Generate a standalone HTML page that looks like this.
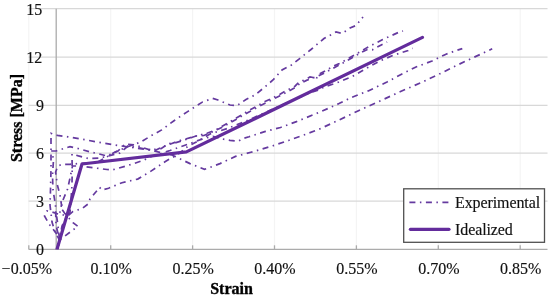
<!DOCTYPE html>
<html><head><meta charset="utf-8"><style>
html,body{margin:0;padding:0;background:#fff;}
svg{display:block;}
.t{font-family:"Liberation Serif",serif;font-size:16px;fill:#111;stroke:#111;stroke-width:0.15px;}
.b{font-family:"Liberation Serif",serif;font-size:16px;font-weight:bold;fill:#000;stroke:#000;stroke-width:0.35px;}
</style></head><body>
<svg width="550" height="297" viewBox="0 0 550 297">
<rect width="550" height="297" fill="#fff"/>
<line x1="28.8" y1="8.7" x2="28.8" y2="249.3" stroke="#F4F4F4" stroke-width="1.2"/>
<line x1="110.7" y1="8.7" x2="110.7" y2="249.3" stroke="#F4F4F4" stroke-width="1.2"/>
<line x1="192.6" y1="8.7" x2="192.6" y2="249.3" stroke="#F4F4F4" stroke-width="1.2"/>
<line x1="274.5" y1="8.7" x2="274.5" y2="249.3" stroke="#F4F4F4" stroke-width="1.2"/>
<line x1="356.4" y1="8.7" x2="356.4" y2="249.3" stroke="#F4F4F4" stroke-width="1.2"/>
<line x1="438.3" y1="8.7" x2="438.3" y2="249.3" stroke="#F4F4F4" stroke-width="1.2"/>
<line x1="520.2" y1="8.7" x2="520.2" y2="249.3" stroke="#F4F4F4" stroke-width="1.2"/>
<line x1="28.6" y1="201.1" x2="547.5" y2="201.1" stroke="#D8D8D8" stroke-width="1.25"/>
<line x1="28.6" y1="153.1" x2="547.5" y2="153.1" stroke="#D8D8D8" stroke-width="1.25"/>
<line x1="28.6" y1="105.3" x2="547.5" y2="105.3" stroke="#D8D8D8" stroke-width="1.25"/>
<line x1="28.6" y1="57.0" x2="547.5" y2="57.0" stroke="#D8D8D8" stroke-width="1.25"/>
<line x1="28.6" y1="8.7" x2="547.5" y2="8.7" stroke="#D8D8D8" stroke-width="1.25"/>
<line x1="56.2" y1="8.7" x2="56.2" y2="249.3" stroke="#ABABAB" stroke-width="1.3"/>
<line x1="28.6" y1="249.4" x2="547.5" y2="249.4" stroke="#ABABAB" stroke-width="1.3"/>
<line x1="28.8" y1="245.3" x2="28.8" y2="249.3" stroke="#ABABAB" stroke-width="1.3"/>
<line x1="110.7" y1="245.3" x2="110.7" y2="249.3" stroke="#ABABAB" stroke-width="1.3"/>
<line x1="192.6" y1="245.3" x2="192.6" y2="249.3" stroke="#ABABAB" stroke-width="1.3"/>
<line x1="274.5" y1="245.3" x2="274.5" y2="249.3" stroke="#ABABAB" stroke-width="1.3"/>
<line x1="356.4" y1="245.3" x2="356.4" y2="249.3" stroke="#ABABAB" stroke-width="1.3"/>
<line x1="438.3" y1="245.3" x2="438.3" y2="249.3" stroke="#ABABAB" stroke-width="1.3"/>
<line x1="520.2" y1="245.3" x2="520.2" y2="249.3" stroke="#ABABAB" stroke-width="1.3"/>
<defs><clipPath id="pc"><rect x="28.6" y="8" width="519" height="241.6"/></clipPath></defs><g clip-path="url(#pc)">
<polyline points="57.5,249.0 59.5,240.0 58.0,226.0 56.7,216.7 60.0,212.0 61.5,205.0 60.0,195.0 57.3,184.7 55.6,172.0 58.0,166.0 62.0,164.3 70.0,164.3 85.0,163.0 96.0,163.0 106.0,157.5 115.0,152.0 131.0,145.5 140.8,142.0 149.5,136.7 161.7,129.9 174.7,120.2 187.6,111.6 202.7,101.9 212.6,98.4 218.0,100.0 230.0,105.0 237.0,105.5 246.0,99.5 255.0,95.0 266.0,86.0 273.0,80.0 282.0,70.0 291.5,65.0 300.0,58.3 311.0,49.5 324.0,38.5 336.0,32.0 342.0,33.5 350.0,28.0 356.0,25.5 363.0,17.0" fill="none" stroke="#653A9F" stroke-width="1.7" stroke-dasharray="6 4.5 1.5 4.5" stroke-dashoffset="5.88"/>
<polyline points="57.5,249.0 59.5,240.0 56.0,225.0 55.5,205.0 53.0,190.0 52.5,175.0 53.5,160.0 52.0,151.0 56.0,151.0 70.0,146.6 80.0,149.0 90.4,152.1 96.0,153.2 106.8,155.9 118.0,151.0 125.0,144.0 135.0,145.0 150.0,150.0 161.0,148.6 168.6,143.7 176.0,142.6 186.1,139.5 196.0,136.0 207.0,133.3 216.6,129.5 225.3,124.5 236.3,118.0 249.0,110.5 257.0,106.0 265.0,101.5 270.0,99.3 280.0,94.2 285.0,91.3 295.0,86.2 298.5,82.5 306.5,78.9 310.0,77.0 313.0,77.5 316.0,79.6 318.2,74.5 325.5,70.9 332.7,66.5 339.3,63.6 350.0,57.5 362.0,50.8 367.4,47.4 372.9,44.6 382.7,39.5 392.5,35.1 398.0,32.6 403.0,31.0" fill="none" stroke="#653A9F" stroke-width="1.7" stroke-dasharray="6 4.5 1.5 4.5" stroke-dashoffset="0.63"/>
<polyline points="57.5,249.0 59.5,240.0 62.0,226.0 66.0,218.0 70.0,212.4 71.0,200.0 72.0,185.0 72.2,170.0 72.0,154.0 78.4,155.9 88.8,158.6 100.0,158.0 120.0,153.0 128.0,146.0 140.0,148.0 155.0,150.5 162.0,147.0 180.5,140.4 195.9,136.0 204.0,135.5 213.4,131.5 225.0,125.8 236.0,119.5 249.0,112.0 257.0,107.5 270.0,100.8 280.0,95.7 295.0,87.7 300.0,83.5 306.5,80.4 318.2,76.0 325.5,72.4 339.3,65.0 350.0,59.0 362.0,52.0 367.4,49.5 372.4,49.8 377.3,47.1 382.2,44.4 387.1,42.0" fill="none" stroke="#653A9F" stroke-width="1.7" stroke-dasharray="6 4.5 1.5 4.5" stroke-dashoffset="13.30"/>
<polyline points="57.5,249.0 59.5,240.0 56.0,233.0 49.0,224.0 44.5,216.0 47.0,211.0 52.0,212.0 58.0,214.0 63.6,215.0 69.0,215.0 73.0,211.4 82.0,208.6 88.0,204.0 90.0,199.0 96.0,191.8 99.5,187.3 102.0,190.0 108.6,188.2 122.0,182.7 137.7,179.1 146.8,173.6 151.4,170.9 165.0,161.8 169.5,159.1 176.0,155.5 183.0,150.5 187.6,146.4 197.0,141.5 210.0,134.0 227.0,128.6 245.0,121.5 263.0,113.5 290.0,101.5 310.0,92.8 318.0,90.2 324.5,86.8 336.5,83.0 352.5,76.3 367.8,67.5 380.0,60.9 392.7,55.5 408.2,50.5 412.7,48.2" fill="none" stroke="#653A9F" stroke-width="1.7" stroke-dasharray="6 4.5 1.5 4.5" stroke-dashoffset="0.74"/>
<polyline points="57.5,249.0 59.5,240.0 65.0,236.0 72.8,230.0 78.0,226.5 73.0,222.7 64.5,213.0 61.0,208.0 63.0,200.0 67.6,189.0 70.0,178.0 72.5,166.0 78.0,166.0 84.0,166.5 95.0,168.0 107.0,169.5 112.0,170.0 126.0,166.0 134.0,163.6 144.0,160.0 150.0,157.0 170.0,150.5 190.0,143.5 196.4,141.1 204.0,138.5 213.0,136.3 221.8,138.8 230.0,140.4 238.2,141.3 242.7,138.6 249.0,136.8 254.5,135.0 265.5,131.4 280.5,127.5 296.5,121.6 321.3,111.5 339.0,103.6 351.8,97.3 368.2,90.9 387.0,82.0 402.0,74.0 416.0,67.0 432.0,61.0 446.0,54.2 457.2,50.2 462.3,48.6" fill="none" stroke="#653A9F" stroke-width="1.7" stroke-dasharray="6 4.5 1.5 4.5" stroke-dashoffset="0.31"/>
<polyline points="57.5,249.0 59.5,240.0 55.0,232.0 52.0,222.0 50.0,205.0 50.5,190.0 51.0,170.0 51.0,150.0 51.0,133.4 57.4,135.4 67.7,136.8 84.6,139.7 100.9,142.7 117.3,145.4 131.8,147.5 147.3,149.5 172.0,155.0 190.0,163.6 204.5,169.3 209.0,167.8 220.0,163.6 235.5,156.4 250.9,152.3 256.5,150.7 273.3,145.6 288.5,140.5 304.5,134.7 319.8,128.9 339.0,120.0 359.0,110.5 380.0,101.0 400.0,91.8 420.9,82.7 436.4,75.5 450.9,68.2 465.3,61.3 480.5,54.3 492.2,48.8" fill="none" stroke="#653A9F" stroke-width="1.7" stroke-dasharray="6 4.5 1.5 4.5" stroke-dashoffset="8.64"/>
<polyline points="57,249.3 82,164 186.4,151.9 422.5,37.4" fill="none" stroke="#632C9C" stroke-width="3.2" stroke-linecap="round" stroke-linejoin="round"/>
</g>
<text x="44.0" y="255.2" text-anchor="end" class="t">0</text>
<text x="44.0" y="207.1" text-anchor="end" class="t">3</text>
<text x="44.0" y="159.1" text-anchor="end" class="t">6</text>
<text x="44.0" y="111.3" text-anchor="end" class="t">9</text>
<text x="42.3" y="63.0" text-anchor="end" class="t">12</text>
<text x="42.3" y="14.7" text-anchor="end" class="t">15</text>
<text x="26.8" y="273.9" text-anchor="middle" class="t">−0.05%</text>
<text x="111.2" y="273.9" text-anchor="middle" class="t">0.10%</text>
<text x="193.1" y="273.9" text-anchor="middle" class="t">0.25%</text>
<text x="275.0" y="273.9" text-anchor="middle" class="t">0.40%</text>
<text x="356.9" y="273.9" text-anchor="middle" class="t">0.55%</text>
<text x="438.8" y="273.9" text-anchor="middle" class="t">0.70%</text>
<text x="520.7" y="273.9" text-anchor="middle" class="t">0.85%</text>
<text x="231.5" y="294.2" text-anchor="middle" class="b">Strain</text>
<text transform="translate(22,118) rotate(-90)" x="0" y="0" text-anchor="middle" class="b">Stress [MPa]</text>
<rect x="403.7" y="188.8" width="140.8" height="53.5" fill="#fff" stroke="#505050" stroke-width="1.3"/>
<line x1="409.4" y1="202.4" x2="448.6" y2="202.4" stroke="#653A9F" stroke-width="1.7" stroke-dasharray="6 4.5 1.5 4.5"/>
<text x="455" y="207.5" class="t" letter-spacing="-0.1">Experimental</text>
<line x1="410.4" y1="229.3" x2="449" y2="229.3" stroke="#632C9C" stroke-width="3.2" stroke-linecap="round"/>
<text x="455" y="234.5" class="t" letter-spacing="-0.1">Idealized</text>
</svg>
</body></html>
